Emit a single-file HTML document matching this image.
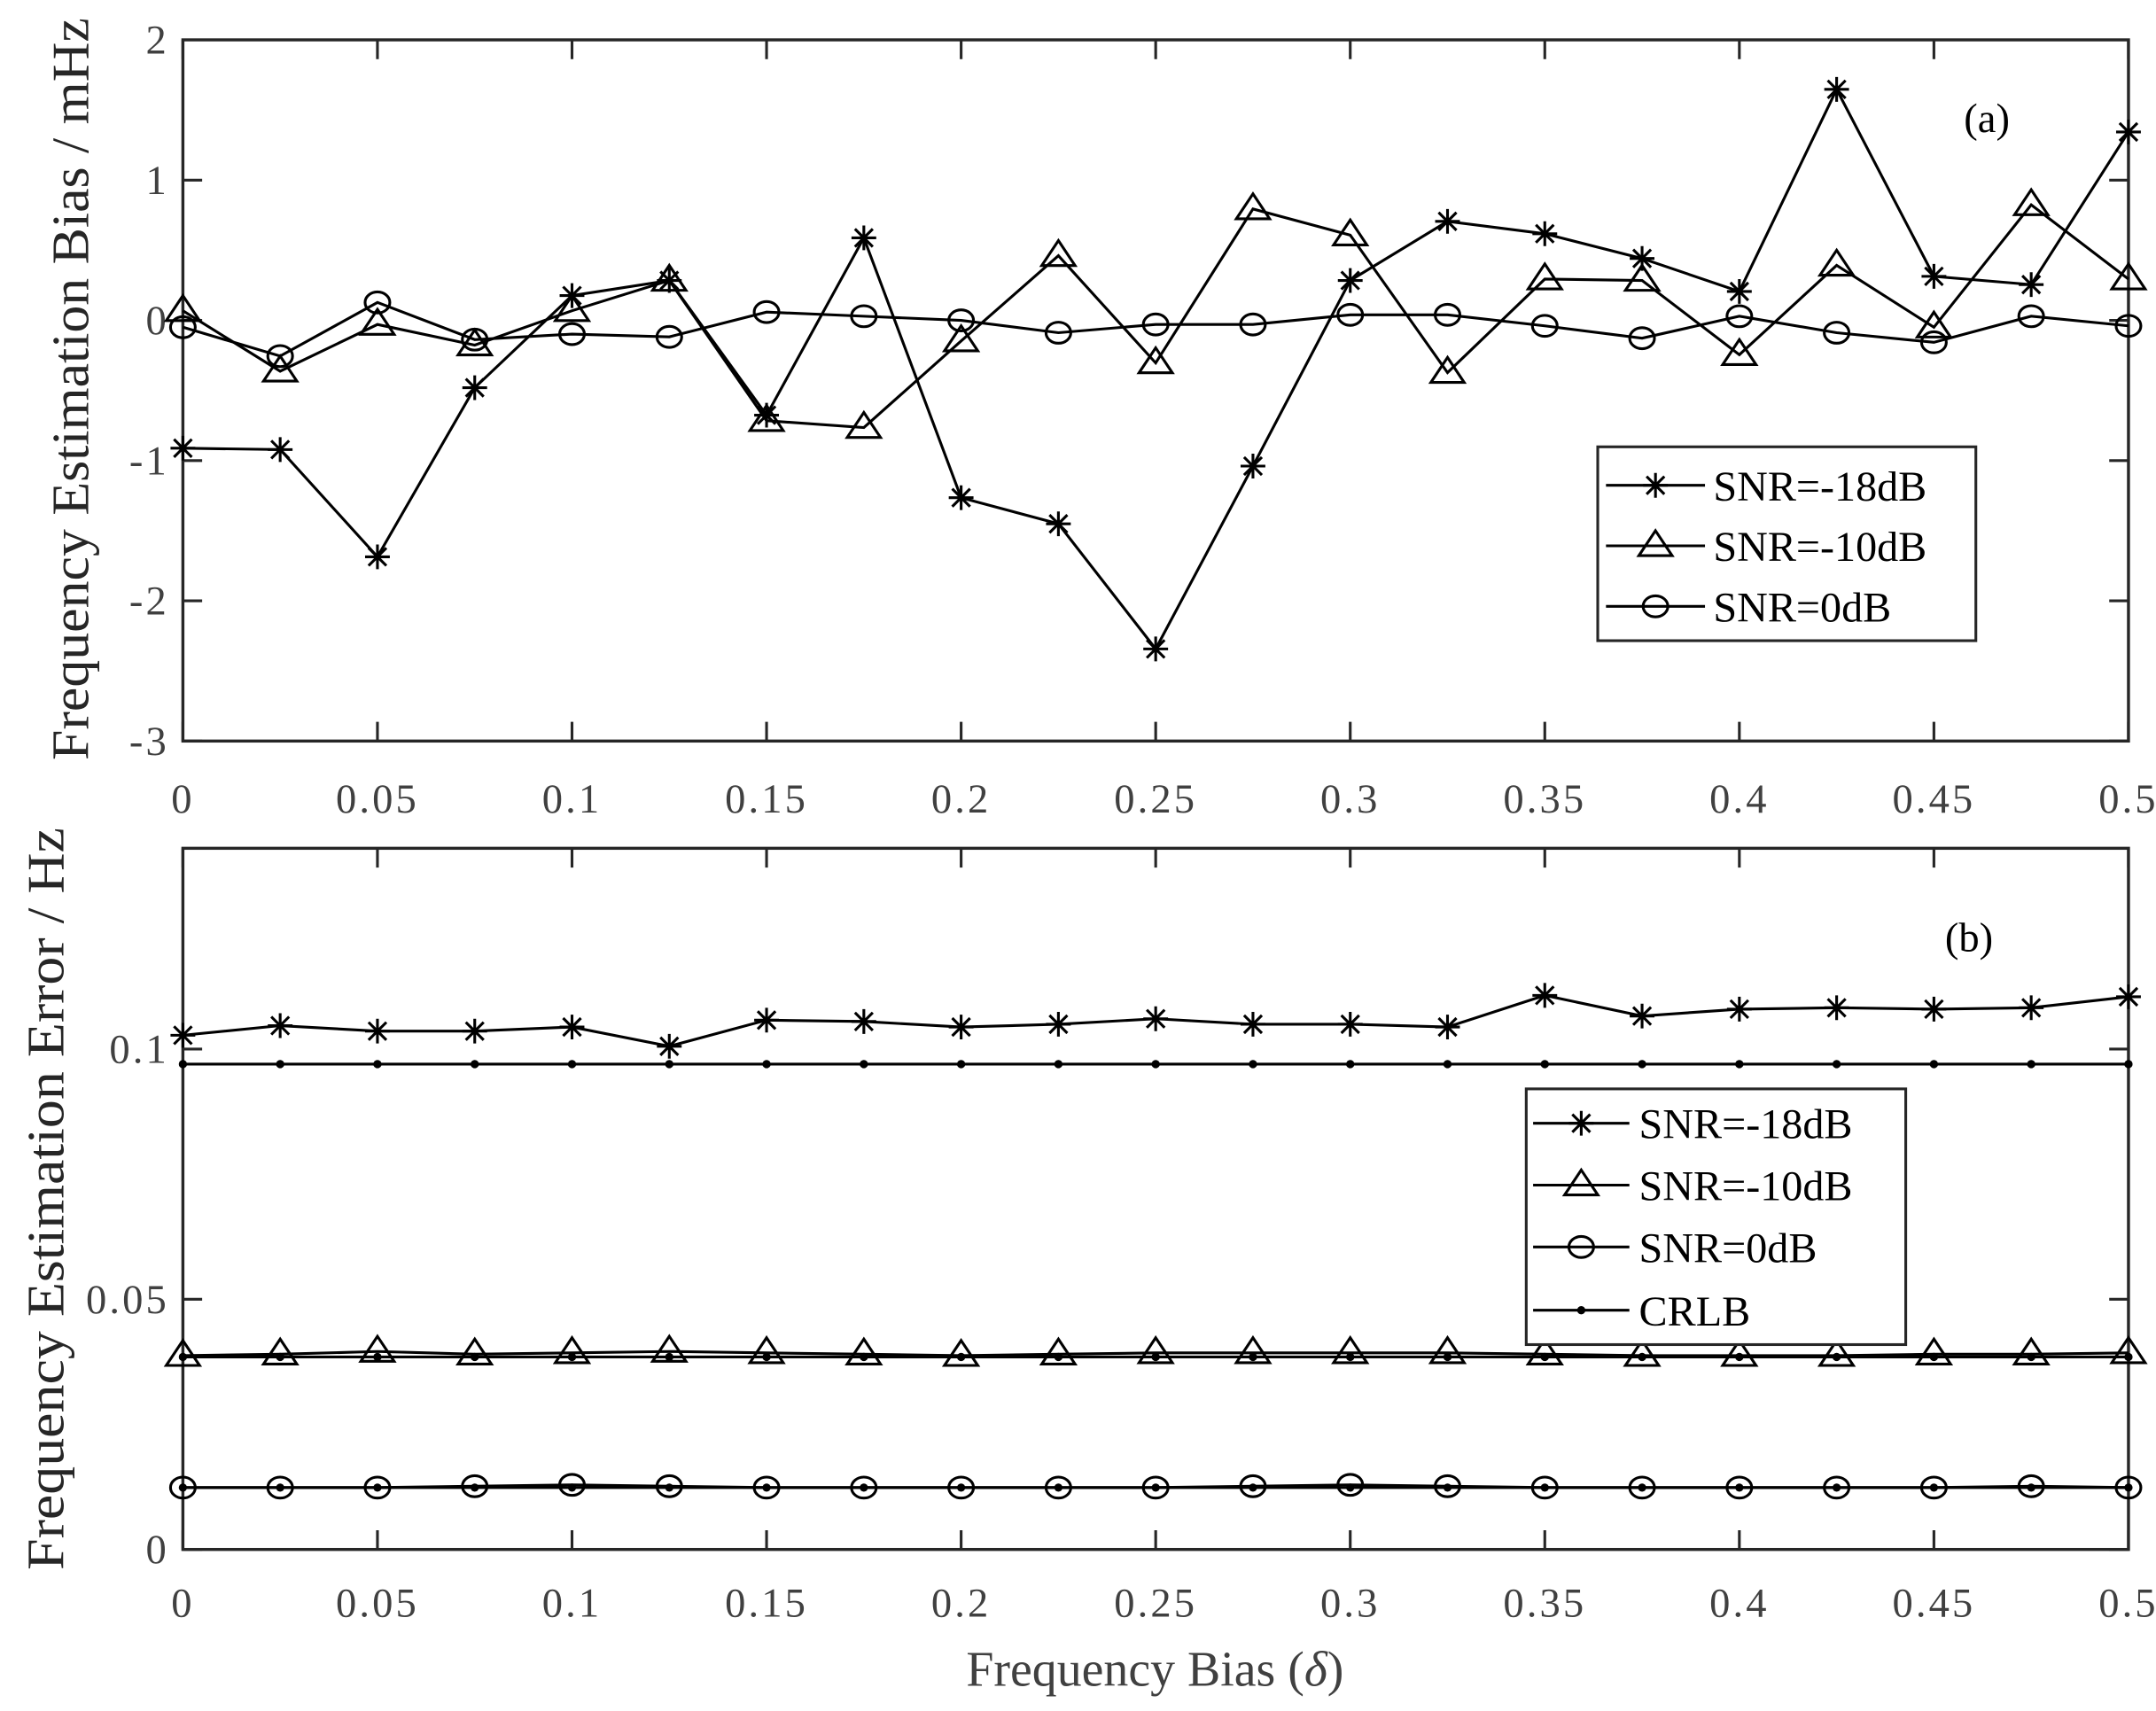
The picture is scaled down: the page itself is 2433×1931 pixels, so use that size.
<!DOCTYPE html>
<html><head><meta charset="utf-8"><style>html,body{margin:0;padding:0;background:#fff}svg{display:block}</style></head>
<body>
<svg id="s" xmlns="http://www.w3.org/2000/svg" width="2433" height="1931" viewBox="0 0 1568 1244.5" font-family="Liberation Serif, serif">
<rect width="1568" height="1244.5" fill="#fff"/>
</svg>
<script>
const S=document.getElementById('s');
let out='';
const X0=133,X1=1548,dx=(X1-X0)/20;
function star(x,y,r){r=r||9;let d=r*0.72;return `<path d="M${x-r} ${y}H${x+r}M${x} ${y-r}V${y+r}M${x-d} ${y-d}L${x+d} ${y+d}M${x-d} ${y+d}L${x+d} ${y-d}" stroke="#000" stroke-width="2" fill="none"/>`;}
function tri(x,y,r){r=r||11;return `<path d="M${x} ${y-r}L${x+r*1.1} ${y+r*0.65}L${x-r*1.1} ${y+r*0.65}Z" stroke="#000" stroke-width="2" fill="none"/>`;}
function circ(x,y,r){r=r||9;return `<ellipse cx="${x}" cy="${y}" rx="${r}" ry="${r*0.85}" stroke="#000" stroke-width="2" fill="none"/>`;}
function dot(x,y){return `<circle cx="${x}" cy="${y}" r="3" fill="#000"/>`;}
function line(ys){return `<polyline points="${ys.map((y,i)=>(X0+i*dx)+','+y).join(' ')}" fill="none" stroke="#000" stroke-width="2"/>`;}
function series(ys,m){let s=line(ys);ys.forEach((y,i)=>{s+=m(X0+i*dx,y)});return s;}
function axes(top,bot,yt,xlabY){
 let s=`<rect x="${X0}" y="${top}" width="${X1-X0}" height="${bot-top}" fill="none" stroke="#262626" stroke-width="2.2"/>`;
 const xl=['0','0.05','0.1','0.15','0.2','0.25','0.3','0.35','0.4','0.45','0.5'];
 xl.forEach((t,i)=>{let x=X0+i*dx*2;s+=`<path d="M${x} ${bot}V${bot-14}M${x} ${top}V${top+14}" stroke="#262626" stroke-width="2"/>`;
  s+=`<text x="${x}" y="${xlabY}" font-size="30" letter-spacing="2" fill="#404040" text-anchor="middle">${t}</text>`;});
 yt.forEach(([y,t])=>{s+=`<path d="M${X0} ${y}H${X0+14}M${X1} ${y}H${X1-14}" stroke="#262626" stroke-width="2"/>`;
  s+=`<text x="${X0-10}" y="${y+10}" font-size="30" letter-spacing="2" fill="#404040" text-anchor="end">${t}</text>`;});
 return s;}
out+=axes(29,539,[[29,'2'],[131,'1'],[233,'0'],[335,'-1'],[437,'-2'],[539,'-3']],591);
const st=[326,327,405,282,215,204,302,173,362,381,472,339,204,161,170,188,212,65,201,207,96];
const tr=[226,270,236,251,226,204,306,311,248,186,264,152,171,271,203,204,258,193,238,149,203];
const ci=[238,259,220,247,243,245,227,230,233,242,236,236,229,229,237,246,230,242,249,230,237];
out+=series(ci,circ)+series(tr,tri)+series(st,star);
out+=`<text x="1445" y="96" font-size="30" text-anchor="middle" fill="#000">(a)</text>`;
out+=`<rect x="1162" y="325" width="275" height="141" fill="#fff" stroke="#262626" stroke-width="2"/>`;
[[353,star],[397,tri],[441,circ]].forEach(([y,m],i)=>{out+=`<line x1="1168" y1="${y}" x2="1240" y2="${y}" stroke="#000" stroke-width="2"/>`+m(1204,y);
 out+=`<text x="1246" y="${y+11}" font-size="31" fill="#000">${['SNR=-18dB','SNR=-10dB','SNR=0dB'][i]}</text>`;});
out+=`<text transform="translate(64,283) rotate(-90)" font-size="38" fill="#262626" text-anchor="middle" textLength="540" lengthAdjust="spacingAndGlyphs">Frequency Estimation Bias / mHz</text>`;
const B=1127,k=3640;
out+=axes(617,B,[[B,'0'],[B-0.05*k,'0.05'],[B-0.1*k,'0.1']],1176);
const bs=[753,746,750,750,747,761,742,743,747,745,741,745,745,747,724,739,734,733,734,733,725];
const bt=[986,985,983,985,984,983,984,985,986,985,984,984,984,984,985,986,986,986,985,985,984];
const bc=[1082,1082,1082,1081,1080,1081,1082,1082,1082,1082,1082,1081,1080,1081,1082,1082,1082,1082,1082,1081,1082];
out+=series(bs,star)+series(bt,tri)+series(bc,circ);
[774,987,1082].forEach(y=>{out+=`<line x1="${X0}" y1="${y}" x2="${X1}" y2="${y}" stroke="#000" stroke-width="2"/>`;for(let i=0;i<=20;i++)out+=dot(X0+i*dx,y);});
out+=`<text x="1432" y="692" font-size="30" text-anchor="middle" fill="#000">(b)</text>`;
out+=`<rect x="1110" y="792" width="276" height="186" fill="#fff" stroke="#262626" stroke-width="2"/>`;
[[817,star],[862,tri],[907,circ],[953,dot]].forEach(([y,m],i)=>{out+=`<line x1="1115" y1="${y}" x2="1185" y2="${y}" stroke="#000" stroke-width="2"/>`+m(1150,y);
 out+=`<text x="1192" y="${y+11}" font-size="31" fill="#000">${['SNR=-18dB','SNR=-10dB','SNR=0dB','CRLB'][i]}</text>`;});
out+=`<text transform="translate(46,872) rotate(-90)" font-size="38" fill="#262626" text-anchor="middle" textLength="540" lengthAdjust="spacingAndGlyphs">Frequency Estimation Error / Hz</text>`;
out+=`<text x="840" y="1226" font-size="36" fill="#404040" text-anchor="middle">Frequency Bias (<tspan font-style="italic">δ</tspan>)</text>`;
S.insertAdjacentHTML('beforeend',out);
</script>
</body></html>
